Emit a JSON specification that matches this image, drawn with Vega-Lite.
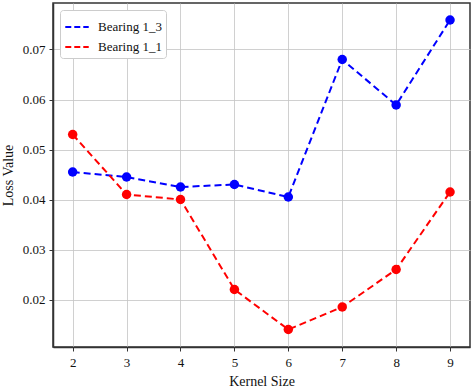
{
  "$schema": "https://vega.github.io/schema/vega-lite/v6.json",
  "width": 417,
  "height": 344,
  "autosize": {"type": "none"},
  "padding": {"left": 53, "top": 3, "right": 4, "bottom": 40},
  "background": "white",
  "config": {
    "font": "Liberation Serif",
    "view": {"stroke": "#333333", "strokeWidth": 1.5},
    "axis": {
      "labelFont": "Liberation Serif",
      "titleFont": "Liberation Serif",
      "labelFontSize": 13,
      "titleFontSize": 14,
      "titleFontWeight": "normal",
      "labelColor": "#111111",
      "titleColor": "#111111",
      "gridColor": "#c4c4c4",
      "gridWidth": 0.8,
      "domainColor": "#333333",
      "domainWidth": 1.5,
      "tickColor": "#333333",
      "tickSize": 4,
      "tickWidth": 1
    },
    "legend": {
      "labelFont": "Liberation Serif"
    }
  },
  "data": {
    "values": [
      {"k": 2, "loss": 0.0455, "series": "Bearing 1_3"},
      {"k": 3, "loss": 0.0445, "series": "Bearing 1_3"},
      {"k": 4, "loss": 0.0425, "series": "Bearing 1_3"},
      {"k": 5, "loss": 0.0430, "series": "Bearing 1_3"},
      {"k": 6, "loss": 0.0405, "series": "Bearing 1_3"},
      {"k": 7, "loss": 0.0680, "series": "Bearing 1_3"},
      {"k": 8, "loss": 0.0589, "series": "Bearing 1_3"},
      {"k": 9, "loss": 0.0759, "series": "Bearing 1_3"},
      {"k": 2, "loss": 0.0530, "series": "Bearing 1_1"},
      {"k": 3, "loss": 0.0410, "series": "Bearing 1_1"},
      {"k": 4, "loss": 0.0400, "series": "Bearing 1_1"},
      {"k": 5, "loss": 0.0220, "series": "Bearing 1_1"},
      {"k": 6, "loss": 0.0140, "series": "Bearing 1_1"},
      {"k": 7, "loss": 0.0185, "series": "Bearing 1_1"},
      {"k": 8, "loss": 0.0260, "series": "Bearing 1_1"},
      {"k": 9, "loss": 0.0415, "series": "Bearing 1_1"}
    ]
  },
  "encoding": {
    "x": {
      "field": "k", "type": "quantitative",
      "scale": {"domain": [1.635, 9.37], "nice": false, "zero": false},
      "axis": {"values": [2,3,4,5,6,7,8,9], "title": "Kernel Size", "titlePadding": 5, "labelPadding": 5}
    },
    "y": {
      "field": "loss", "type": "quantitative",
      "scale": {"domain": [0.0105, 0.0793], "nice": false, "zero": false},
      "axis": {"values": [0.02,0.03,0.04,0.05,0.06,0.07], "format": ".2f", "title": "Loss Value", "titlePadding": 7, "labelPadding": 4}
    },
    "color": {
      "field": "series", "type": "nominal",
      "scale": {"domain": ["Bearing 1_3", "Bearing 1_1"], "range": ["#0000ff", "#ff0000"]},
      "legend": {
        "title": null,
        "orient": "top-left",
        "offset": 7,
        "symbolType": "stroke",
        "symbolDash": [6, 3],
        "symbolStrokeWidth": 2,
        "symbolSize": 550,
        "labelOffset": 8,
        "labelFont": "Liberation Serif",
        "labelFontSize": 13,
        "labelColor": "#111111",
        "fillColor": "white",
        "strokeColor": "#cccccc",
        "padding": 4,
        "rowPadding": -11,
        "cornerRadius": 3
      }
    }
  },
  "layer": [
    {"mark": {"type": "line", "strokeDash": [7, 4], "strokeWidth": 2}},
    {"mark": {"type": "point", "filled": true, "size": 90, "opacity": 1, "shape": "circle"}}
  ]
}
